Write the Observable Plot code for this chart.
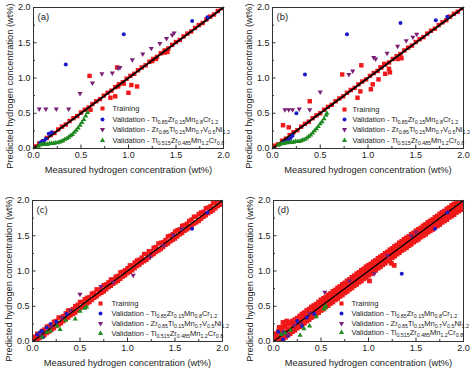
<!DOCTYPE html>
<html><head><meta charset="utf-8">
<script src="https://cdn.jsdelivr.net/npm/d3@7"></script>
<script src="https://cdn.jsdelivr.net/npm/@observablehq/plot@0.6"></script>
<style>
body{margin:0;background:#fff;}
#wrap{position:relative;width:474px;height:370px;overflow:hidden;background:#fff;}
#wrap svg{position:absolute;}
</style></head><body><div id="wrap"></div>
<script>
// ---------- text / ticks ----------
const ticksMajor = [0, 0.5, 1.0, 1.5, 2.0];
const ticksMinor = [0.25, 0.75, 1.25, 1.75];
const xTitle = "Measured hydrogen concentration (wt%)";
const yTitle = "Predicted hydrogen concentration (wt%)";
const panelTags = ["(a)", "(b)", "(c)", "(d)"];
const seriesLabels = ["Training",
  "Validation - Ti_{0.85}Zr_{0.15}Mn_{0.8}Cr_{1.2}",
  "Validation - Zr_{0.85}Ti_{0.15}Mn_{0.7}V_{0.5}Ni_{1.2}",
  "Validation - Ti_{0.515}Zr_{0.485}Mn_{1.2}Cr_{0.8}"];
const diagonal = [0, 2];

// ---------- panel (a) ----------
const trainA_x = [0.02,0.06,0.10,0.14,0.18,0.22,0.26,0.30,0.34,0.38,0.42,0.46,0.50,0.54,0.58,0.62,0.66,0.70,0.74,0.78,0.82,0.86,0.90,0.94,0.98,1.02,1.06,1.10,1.14,1.18,1.22,1.26,1.30,1.34,1.38,1.42,1.46,1.50,1.54,1.58,1.62,1.66,1.70,1.74,1.78,1.82,1.86,1.90,1.94,1.98,
  0.59,0.60,0.81,0.86,0.88,0.89,0.95,1.00,1.03,1.09,1.25,1.29,1.38,1.41];
const trainA_y = [0.03,0.07,0.10,0.15,0.19,0.22,0.27,0.31,0.34,0.39,0.43,0.46,0.51,0.55,0.58,0.63,0.67,0.70,0.75,0.79,0.82,0.87,0.91,0.94,0.99,1.03,1.06,1.11,1.15,1.18,1.23,1.27,1.30,1.35,1.39,1.42,1.47,1.51,1.54,1.59,1.63,1.66,1.71,1.75,1.78,1.83,1.87,1.90,1.95,1.99,
  1.03,0.55,0.72,0.74,1.15,0.88,0.92,0.79,0.90,0.88,1.24,1.27,1.36,1.37];
const blueA_x = [0.07,0.09,0.11,0.13,0.16,0.19,0.34,0.95,1.67,1.83];
const blueA_y = [0.08,0.10,0.11,0.14,0.21,0.23,1.19,1.62,1.81,1.86];
const purpleA_x = [0.06,0.13,0.24,0.37,0.49,0.62,0.72,0.83,0.89,0.91,1.04,1.15,1.24,1.33,1.40,1.46,1.48];
const purpleA_y = [0.56,0.56,0.56,0.56,0.78,0.93,1.06,1.07,1.14,1.15,1.26,1.34,1.42,1.49,1.56,1.61,1.64];
const greenA_x = [0.05,0.07,0.09,0.11,0.13,0.15,0.17,0.19,0.21,0.23,0.25,0.27,0.29,0.31,0.33,0.35,0.37,0.39,0.41,0.43,0.45,0.47,0.49,0.51,0.53,0.55,0.57];
const greenA_y = [0.03,0.05,0.06,0.06,0.06,0.06,0.07,0.07,0.07,0.08,0.08,0.09,0.10,0.11,0.13,0.14,0.16,0.18,0.20,0.23,0.26,0.29,0.33,0.37,0.41,0.46,0.51];

// ---------- panel (b) ----------
const trainB_x = [0.02,0.06,0.10,0.14,0.18,0.22,0.26,0.30,0.34,0.38,0.42,0.46,0.50,0.54,0.58,0.62,0.66,0.70,0.74,0.78,0.82,0.86,0.90,0.94,0.98,1.02,1.06,1.10,1.14,1.18,1.22,1.26,1.30,1.34,1.38,1.42,1.46,1.50,1.54,1.58,1.62,1.66,1.70,1.74,1.78,1.82,1.86,1.90,1.94,1.98,
  0.11,0.17,0.39,0.73,0.89,0.92,0.93,1.03,1.05,1.11,1.13,1.17,1.18,1.22,1.23,1.31,1.35];
const trainB_y = [0.04,0.06,0.11,0.14,0.19,0.23,0.26,0.31,0.35,0.38,0.43,0.47,0.50,0.55,0.59,0.62,0.67,0.71,0.74,0.79,0.83,0.86,0.91,0.95,0.98,1.03,1.07,1.10,1.15,1.19,1.22,1.27,1.31,1.34,1.39,1.43,1.46,1.51,1.55,1.58,1.63,1.67,1.70,1.75,1.79,1.82,1.87,1.91,1.94,1.99,
  0.33,0.30,0.67,1.05,0.72,0.81,1.18,0.84,0.91,0.98,1.15,1.20,1.06,1.13,1.08,1.27,1.28];
const blueB_x = [0.12,0.15,0.17,0.19,0.21,0.25,0.34,0.78,1.34,1.71,1.83];
const blueB_y = [0.09,0.10,0.12,0.15,0.18,0.50,1.05,1.62,1.78,1.82,1.87];
const purpleB_x = [0.13,0.17,0.21,0.28,0.39,0.50,0.80,0.84,1.06,1.08,1.20,1.31,1.40,1.47,1.51];
const purpleB_y = [0.55,0.55,0.55,0.56,0.55,0.80,1.05,1.10,1.29,1.27,1.35,1.45,1.53,1.58,1.62];
const greenB_x = [0.06,0.08,0.10,0.12,0.14,0.16,0.18,0.20,0.22,0.24,0.26,0.28,0.30,0.32,0.34,0.36,0.38,0.40,0.42,0.44,0.46,0.48,0.50,0.52,0.54,0.56,0.57];
const greenB_y = [0.05,0.06,0.07,0.07,0.08,0.08,0.09,0.09,0.09,0.10,0.10,0.10,0.11,0.12,0.13,0.15,0.17,0.19,0.22,0.25,0.28,0.31,0.35,0.38,0.42,0.47,0.50];

// ---------- panels (c), (d): dense training bands ----------
const bandX = [0.000,0.025,0.050,0.075,0.100,0.125,0.150,0.175,0.200,0.225,0.250,0.275,0.300,0.325,0.350,0.375,0.400,0.425,0.450,0.475,0.500,0.525,0.550,0.575,0.600,0.625,0.650,0.675,0.700,0.725,0.750,0.775,0.800,0.825,0.850,0.875,0.900,0.925,0.950,0.975,1.000,1.025,1.050,1.075,1.100,1.125,1.150,1.175,1.200,1.225,1.250,1.275,1.300,1.325,1.350,1.375,1.400,1.425,1.450,1.475,1.500,1.525,1.550,1.575,1.600,1.625,1.650,1.675,1.700,1.725,1.750,1.775,1.800,1.825,1.850,1.875,1.900,1.925,1.950,1.975,2.000];
const trainC_hi = [0.05,0.07,0.11,0.10,0.15,0.17,0.21,0.22,0.23,0.28,0.29,0.34,0.34,0.36,0.40,0.44,0.44,0.46,0.50,0.52,0.56,0.56,0.60,0.62,0.63,0.68,0.69,0.74,0.73,0.77,0.80,0.81,0.84,0.88,0.88,0.92,0.93,0.98,0.99,1.01,1.04,1.08,1.08,1.12,1.15,1.16,1.19,1.24,1.24,1.28,1.28,1.33,1.34,1.39,1.40,1.41,1.44,1.49,1.50,1.52,1.56,1.58,1.59,1.64,1.65,1.67,1.71,1.73,1.77,1.77,1.81,1.83,1.84,1.89,1.90,1.92,1.96,1.97,2.00,2.01,2.02];
const trainC_lo = [0.00,0.00,0.02,0.05,0.07,0.09,0.12,0.14,0.17,0.19,0.22,0.24,0.26,0.29,0.32,0.34,0.37,0.39,0.41,0.44,0.47,0.49,0.52,0.54,0.56,0.59,0.62,0.64,0.67,0.69,0.71,0.74,0.77,0.79,0.82,0.84,0.86,0.89,0.92,0.94,0.97,0.99,1.01,1.04,1.07,1.09,1.12,1.14,1.16,1.19,1.22,1.24,1.27,1.29,1.31,1.34,1.37,1.39,1.42,1.44,1.46,1.49,1.52,1.54,1.57,1.59,1.61,1.64,1.67,1.69,1.71,1.74,1.77,1.79,1.82,1.84,1.86,1.89,1.92,1.94,1.96];
const blueC_x = [0.05,0.08,0.10,0.11,0.15,0.19,0.25,0.36,1.68,1.84];
const blueC_y = [0.10,0.13,0.15,0.06,0.20,0.25,0.28,0.39,1.60,1.83];
const purpleC_x = [0.08,0.20,0.31,0.40,0.50,0.72,0.85,1.06,1.24,1.38,1.48,1.57];
const purpleC_y = [0.10,0.22,0.34,0.44,0.67,0.78,0.84,0.94,1.20,1.36,1.51,1.60];
const greenC_x = [0.10,0.15,0.19,0.26,0.29,0.35,0.45,0.50,0.55,0.57];
const greenC_y = [0.06,0.13,0.15,0.22,0.17,0.30,0.32,0.43,0.47,0.49];

const trainD_hi = [0.08,0.11,0.14,0.17,0.20,0.22,0.25,0.27,0.29,0.31,0.33,0.36,0.39,0.41,0.44,0.46,0.49,0.51,0.53,0.56,0.59,0.61,0.63,0.66,0.68,0.71,0.73,0.76,0.78,0.81,0.83,0.86,0.88,0.91,0.93,0.96,0.98,1.01,1.03,1.06,1.08,1.10,1.13,1.15,1.18,1.20,1.22,1.25,1.27,1.30,1.32,1.35,1.37,1.40,1.42,1.45,1.47,1.49,1.52,1.54,1.57,1.59,1.61,1.64,1.66,1.69,1.71,1.73,1.76,1.78,1.81,1.83,1.85,1.88,1.90,1.93,1.95,1.98,2.00,2.02,2.04];
const trainD_mid = [0.02,0.05,0.06,0.09,0.12,0.13,0.17,0.18,0.21,0.24,0.26,0.28,0.31,0.34,0.36,0.38,0.41,0.44,0.46,0.48,0.51,0.54,0.56,0.58,0.61,0.64,0.66,0.68,0.71,0.74,0.76,0.78,0.81,0.84,0.86,0.88,0.91,0.94,0.96,0.98,1.01,1.04,1.06,1.08,1.11,1.14,1.16,1.18,1.21,1.24,1.26,1.28,1.31,1.34,1.36,1.38,1.41,1.43,1.45,1.48,1.50,1.52,1.55,1.57,1.59,1.62,1.64,1.66,1.69,1.71,1.73,1.76,1.78,1.80,1.83,1.85,1.87,1.90,1.92,1.94,1.97];
const trainD_lo = [0.00,0.00,0.01,0.02,0.04,0.06,0.09,0.11,0.14,0.16,0.19,0.21,0.24,0.26,0.29,0.31,0.34,0.36,0.39,0.41,0.44,0.46,0.49,0.51,0.54,0.56,0.59,0.61,0.64,0.66,0.69,0.71,0.74,0.76,0.79,0.81,0.84,0.86,0.89,0.91,0.94,0.96,0.99,1.01,1.04,1.06,1.09,1.11,1.14,1.16,1.19,1.21,1.24,1.26,1.29,1.31,1.33,1.36,1.38,1.41,1.43,1.45,1.48,1.50,1.52,1.55,1.57,1.59,1.62,1.64,1.66,1.69,1.71,1.73,1.76,1.78,1.80,1.83,1.85,1.87,1.90];
const outD_x = [0.06,0.10,0.14,0.18,1.01,1.15,1.24,1.27];
const outD_y = [0.20,0.27,0.29,0.25,0.86,1.21,1.11,1.08];
const blueD_x = [0.05,0.10,0.11,0.15,0.25,0.30,0.35,0.43,1.35,1.70,1.83];
const blueD_y = [0.14,0.03,0.13,0.08,0.29,0.22,0.34,0.39,0.96,1.60,1.83];
const purpleD_x = [0.10,0.15,0.22,0.29,0.38,0.54,0.80,1.06,1.20,1.45,1.50];
const purpleD_y = [0.11,0.10,0.23,0.25,0.40,0.70,0.86,0.96,1.22,1.50,1.55];
const greenD_x = [0.08,0.12,0.18,0.28,0.32,0.38,0.45,0.53,0.54,0.55];
const greenD_y = [0.10,0.12,0.16,0.09,0.18,0.22,0.35,0.46,0.48,0.50];

// ---------- drawing ----------
const W = 237, H = 185;
const RED = "#f01818", BLUE = "#1a1ac8", PURPLE = "#7a1f76", GREEN = "#1f8a1f", INK = "#222";
const rows = (xs, ys) => xs.map((x, i) => ({x, y: ys[i]}));
const triDown = {draw(ctx, size) {
  const y = -Math.sqrt(size / (Math.sqrt(3) * 3)), s = Math.sqrt(3);
  ctx.moveTo(0, -y * 2); ctx.lineTo(-s * y, y); ctx.lineTo(s * y, y); ctx.closePath();
}};

const panels = [
  {tag: panelTags[0], left: 0, top: 0, ml: 33, mr: 14, mt: 7, mb: 37, tr: 2.5, lw: 1.7,
   train: rows(trainA_x, trainA_y), blue: rows(blueA_x, blueA_y), purple: rows(purpleA_x, purpleA_y), green: rows(greenA_x, greenA_y),
   symDx: 69, txtDx: 79, dys: [101, 112, 122, 133]},
  {tag: panelTags[1], left: 237, top: 0, ml: 35, mr: 11, mt: 7, mb: 37, tr: 2.5, lw: 1.7,
   train: rows(trainB_x, trainB_y), blue: rows(blueB_x, blueB_y), purple: rows(purpleB_x, purpleB_y), green: rows(greenB_x, greenB_y),
   symDx: 72, txtDx: 80, dys: [102, 112, 122, 133]},
  {tag: panelTags[2], left: 0, top: 185, ml: 32, mr: 15, mt: 15, mb: 29, tr: 2.5, lw: 1.3,
   train: rows(bandX, trainC_hi).concat(rows(bandX, trainC_lo)), blue: rows(blueC_x, blueC_y), purple: rows(purpleC_x, purpleC_y), green: rows(greenC_x, greenC_y),
   symDx: 68, txtDx: 79, dys: [103, 113, 123, 133]},
  {tag: panelTags[3], left: 237, top: 185, ml: 36, mr: 11, mt: 15, mb: 29, tr: 2.7, lw: 1.3,
   train: rows(bandX, trainD_hi).concat(rows(bandX, trainD_mid), rows(bandX, trainD_lo), rows(outD_x, outD_y)),
   blue: rows(blueD_x, blueD_y), purple: rows(purpleD_x, purpleD_y), green: rows(greenD_x, greenD_y),
   symDx: 68, txtDx: 78, dys: [103, 113, 123, 132]}
];

function subscriptify(svg) {
  d3.select(svg).selectAll("text").each(function() {
    const t = this.textContent;
    if (!t.includes("_{")) return;
    const sel = d3.select(this); sel.text(null);
    const re = /_\{([^}]*)\}/g; let last = 0, m, sub = false;
    while ((m = re.exec(t))) {
      if (m.index > last) { sel.append("tspan").attr("dy", sub ? -2.1 : null).text(t.slice(last, m.index)); sub = false; }
      sel.append("tspan").attr("font-size", 5.3).attr("dy", sub ? 0 : 2.1).text(m[1]); sub = true;
      last = re.lastIndex;
    }
    if (last < t.length) sel.append("tspan").attr("dy", sub ? -2.1 : null).text(t.slice(last));
  });
}

const legendSymbols = [
  {symbol: "square", r: 2.3, fill: RED},
  {symbol: "circle", r: 2.0, fill: BLUE},
  {symbol: triDown, r: 1.9, fill: PURPLE},
  {symbol: "triangle", r: 1.9, fill: GREEN}
];

const wrap = document.getElementById("wrap");
for (const p of panels) {
  const fw = W - p.ml - p.mr, fh = H - p.mt - p.mb;
  const marks = [
    Plot.dot(p.train, {x: "x", y: "y", symbol: "square", r: p.tr, fill: RED, clip: true}),
    Plot.line(diagonal, {x: d => d, y: d => d, stroke: "#000", strokeWidth: p.lw}),
    Plot.dot(p.blue, {x: "x", y: "y", symbol: "circle", r: 2.0, fill: BLUE}),
    Plot.dot(p.purple, {x: "x", y: "y", symbol: triDown, r: 1.9, fill: PURPLE}),
    Plot.dot(p.green, {x: "x", y: "y", symbol: "triangle", r: 1.9, fill: GREEN}),
    Plot.frame({stroke: "#333", strokeWidth: 1}),
    Plot.ruleX(ticksMajor, {x: d => d, stroke: "#333", insetTop: fh - 3.5}),
    Plot.ruleX(ticksMinor, {x: d => d, stroke: "#333", insetTop: fh - 2}),
    Plot.ruleY(ticksMajor, {y: d => d, stroke: "#333", insetRight: fw - 3.5}),
    Plot.ruleY(ticksMinor, {y: d => d, stroke: "#333", insetRight: fw - 2}),
    Plot.axisX({ticks: ticksMajor, tickSize: 0, tickPadding: 3, tickFormat: d => d.toFixed(1), fontSize: 9, fill: INK, label: null}),
    Plot.axisY({ticks: ticksMajor, tickSize: 0, tickPadding: 3, tickFormat: d => d.toFixed(1), fontSize: 9, fill: INK, label: null}),
    Plot.text([yTitle], {text: d => d, frameAnchor: "left", dx: -23, dy: 8, rotate: -90, textAnchor: "middle", lineAnchor: "middle", fontSize: 9.3, fill: INK}),
    Plot.text([xTitle], {text: d => d, frameAnchor: "bottom", dy: 22, textAnchor: "middle", lineAnchor: "middle", fontSize: 9.3, fill: INK}),
    Plot.text([p.tag], {text: d => d, frameAnchor: "top-left", dx: 4, dy: 9, textAnchor: "start", lineAnchor: "middle", fontSize: 9.5, fill: INK})
  ];
  legendSymbols.forEach((s, i) => {
    marks.push(Plot.dot([seriesLabels[i]], {frameAnchor: "top-left", dx: p.symDx, dy: p.dys[i], symbol: s.symbol, r: s.r, fill: s.fill}));
    marks.push(Plot.text([seriesLabels[i]], {text: d => d, frameAnchor: "top-left", dx: p.txtDx, dy: p.dys[i], textAnchor: "start", lineAnchor: "middle", fontSize: 7.5, fill: INK}));
  });
  const svg = Plot.plot({
    width: W, height: H,
    marginLeft: p.ml, marginRight: p.mr, marginTop: p.mt, marginBottom: p.mb,
    x: {domain: [0, 2], label: null},
    y: {domain: [0, 2], label: null},
    style: {fontFamily: "'Liberation Sans', Arial, sans-serif", background: "white", overflow: "visible"},
    marks
  });
  svg.style.left = p.left + "px";
  svg.style.top = p.top + "px";
  wrap.appendChild(svg);
  subscriptify(svg);
}
</script></body></html>
